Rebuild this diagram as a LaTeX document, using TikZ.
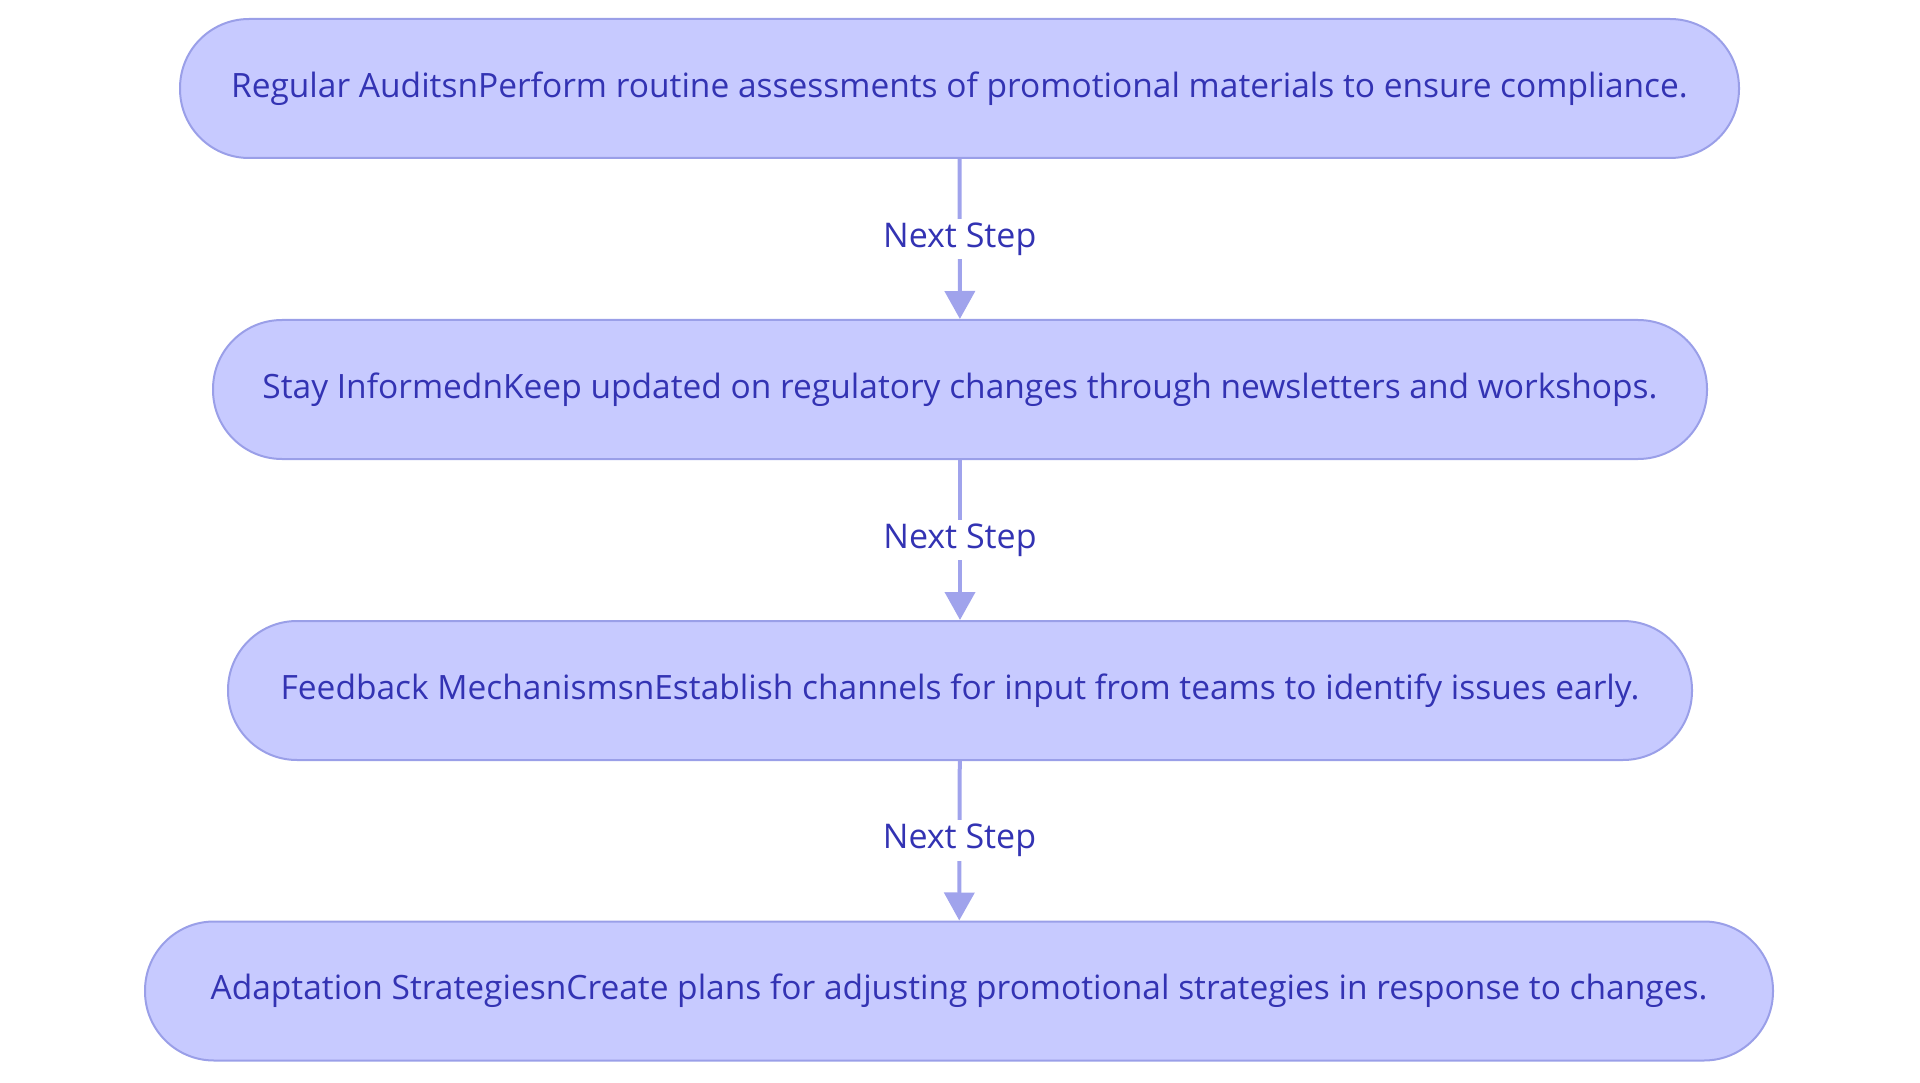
\documentclass[tikz,border=0pt]{standalone}
\usepackage{fontspec}
\setmainfont{Open Sans}
\usetikzlibrary{arrows.meta}
\definecolor{boxfill}{HTML}{C7CAFF}
\definecolor{boxline}{HTML}{9A9FE8}
\definecolor{txt}{HTML}{3333B3}
\definecolor{arr}{HTML}{A0A3EC}
\tikzset{
  stepbox/.style={draw=boxline, line width=2pt, fill=boxfill, rounded corners=69pt,
    minimum height=139pt, inner sep=0pt, text=txt, font=\fontsize{33.5}{40}\selectfont},
  conn/.style={draw=arr, line width=4pt, -{Triangle[length=28pt,width=30pt]}},
  lbl/.style={fill=white, text=txt, font=\fontsize{34}{40}\selectfont, inner xsep=2pt, inner ysep=4pt}
}
\begin{document}
\begin{tikzpicture}[x=1pt,y=-1pt]
\useasboundingbox (0,0) rectangle (1920,1083);
\node[stepbox, minimum width=1559pt] (n1) at (959.5,88.5) {Regular AuditsnPerform routine assessments of promotional materials to ensure compliance.};
\node[stepbox, minimum width=1494pt] (n2) at (960,389.5) {Stay InformednKeep updated on regulatory changes through newsletters and workshops.};
\node[stepbox, minimum width=1464pt] (n3) at (960,690.5) {Feedback MechanismsnEstablish channels for input from teams to identify issues early.};
\node[stepbox, minimum width=1628pt] (n4) at (959,991) {Adaptation StrategiesnCreate plans for adjusting promotional strategies in response to changes.};
\draw[conn] (n1) -- node[lbl] {Next Step} (n2);
\draw[conn] (n2) -- node[lbl] {Next Step} (n3);
\draw[conn] (n3) -- node[lbl] {Next Step} (n4);
\end{tikzpicture}
\end{document}
